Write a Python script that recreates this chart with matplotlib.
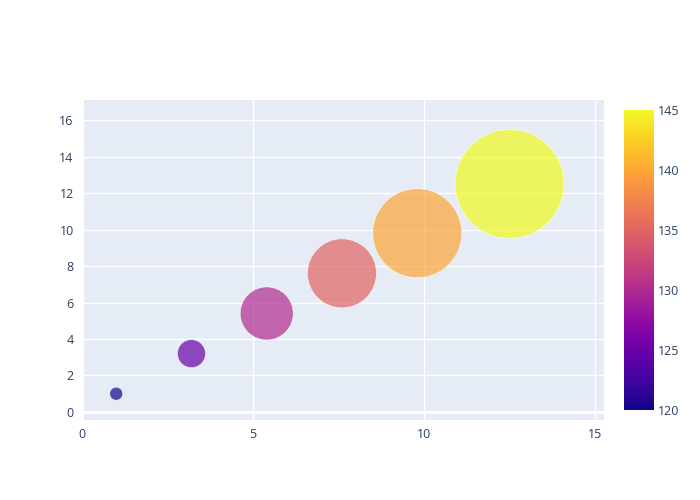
import matplotlib.pyplot as plt
import matplotlib as mpl

plt.rcParams['font.family'] = ['Open Sans', 'DejaVu Sans']

x = [1, 3.2, 5.4, 7.6, 9.8, 12.5]
y = [1, 3.2, 5.4, 7.6, 9.8, 12.5]
colors = [120, 125, 130, 135, 140, 145]
diam_px = [13, 28, 53, 69, 89, 109]  # bubble diameters in pixels

bg = '#e5ecf6'
txt = '#2a3f5f'

fig = plt.figure(figsize=(7, 5), dpi=100)
ax = fig.add_axes([82 / 700, 80 / 500, 522 / 700, 320 / 500])
ax.set_facecolor(bg)

sizes = [(d * 0.72) ** 2 for d in diam_px]
norm = mpl.colors.Normalize(vmin=120, vmax=145)
sc = ax.scatter(x, y, s=sizes, c=colors, cmap='plasma', norm=norm,
                alpha=0.7, edgecolors='white', linewidths=0.5, zorder=3)

ax.set_xlim(0, 15.26)
ax.set_ylim(-0.44, 17.1)
ax.set_xticks([0, 5, 10, 15])
ax.set_yticks(range(0, 17, 2))
ax.grid(color='white', linewidth=1, zorder=0)
ax.set_axisbelow(True)
ax.axhline(0, color='white', linewidth=2, zorder=1)
ax.axvline(0, color='white', linewidth=2, zorder=1)
for s in ax.spines.values():
    s.set_visible(False)
ax.tick_params(length=0, labelsize=9, labelcolor=txt, pad=6)

cax = fig.add_axes([624 / 700, 90 / 500, 30 / 700, 300 / 500])
cb = fig.colorbar(sc, cax=cax, ticks=[120, 125, 130, 135, 140, 145])
cb.solids.set_alpha(1)
cb.outline.set_visible(False)
cax.tick_params(length=0, labelsize=9, labelcolor=txt, pad=3)

fig.savefig('out.png', dpi=100)
